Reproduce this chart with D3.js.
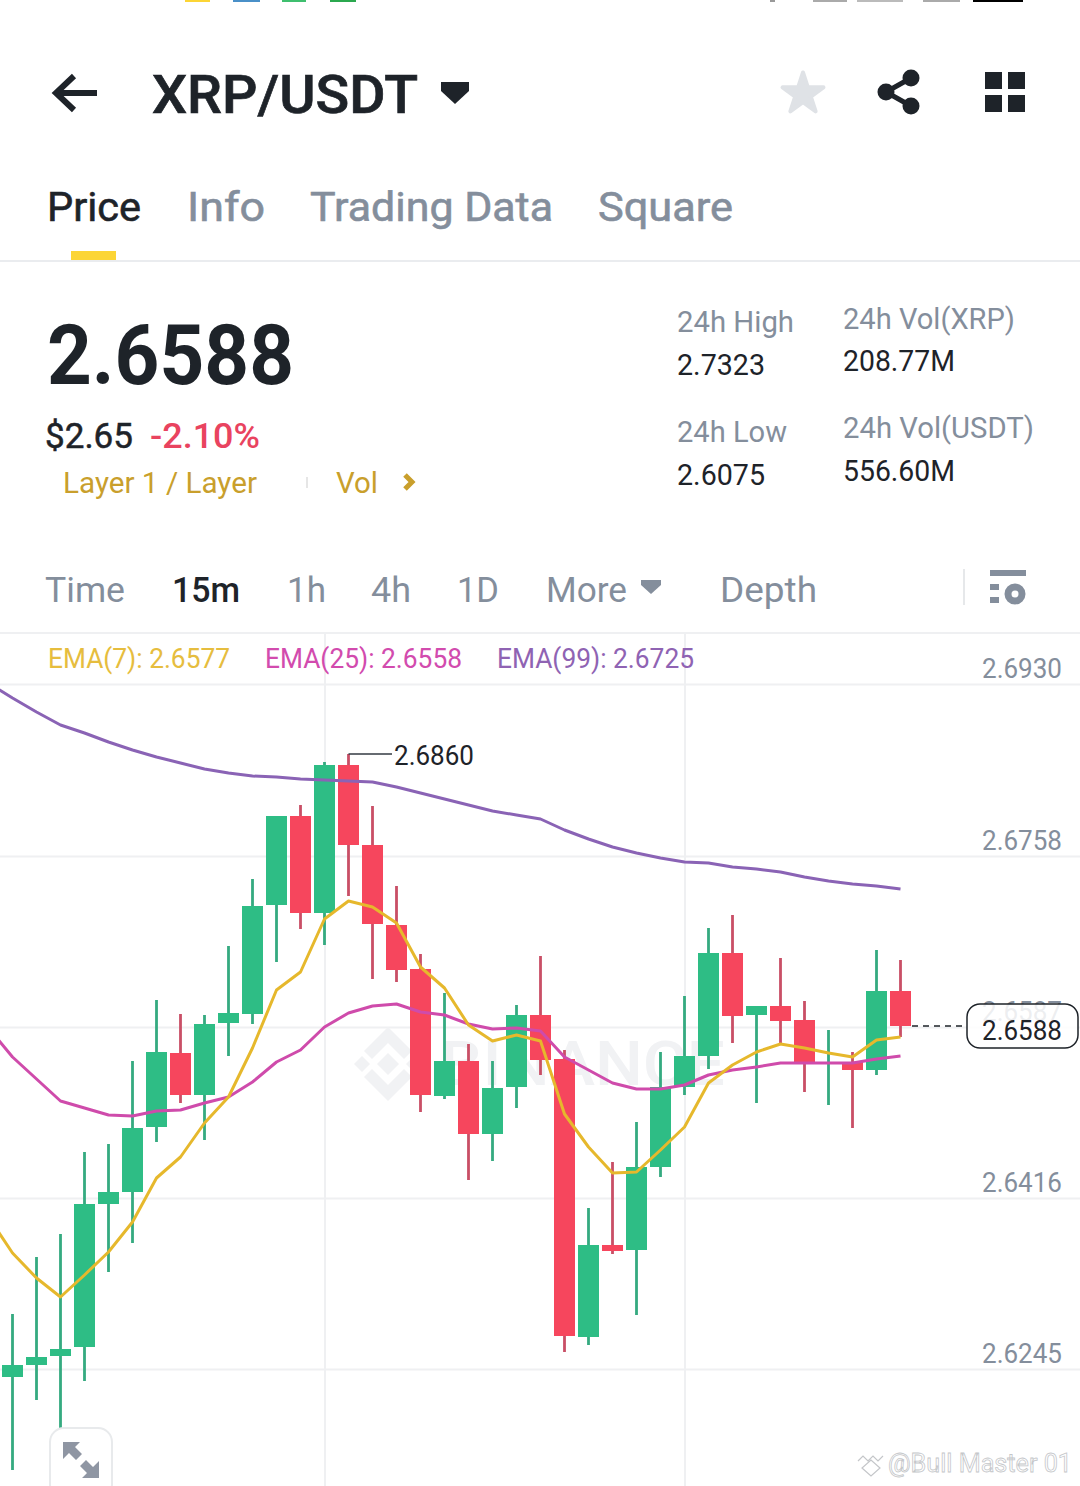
<!DOCTYPE html>
<html>
<head>
<meta charset="utf-8">
<script src="https://cdn.jsdelivr.net/npm/d3@7"></script>
<style>
html, body { margin: 0; padding: 0; background: #fff; }
svg { display: block; font-family: Roboto, sans-serif; }
</style>
</head>
<body>
<svg id="chart" width="1080" height="1486"></svg>
<script>
// candles, oldest first
var opens = [2.6237,2.6249,2.6258,2.6267,2.6410,2.6422,2.6487,2.6561,2.6519,2.6591,2.6600,2.6709,2.6798,2.6701,2.6849,2.6769,2.6689,2.6645,2.6518,2.6553,2.6480,2.6527,2.6599,2.6555,2.6277,2.6369,2.6364,2.6447,2.6527,2.6558,2.6661,2.6599,2.6608,2.6594,2.6550,2.6552,2.6544,2.6623];
var closes = [2.6249,2.6257,2.6265,2.6410,2.6422,2.6486,2.6562,2.6519,2.6590,2.6601,2.6708,2.6798,2.6701,2.6849,2.6769,2.6690,2.6644,2.6519,2.6553,2.6480,2.6526,2.6599,2.6554,2.6278,2.6369,2.6363,2.6447,2.6527,2.6558,2.6661,2.6598,2.6608,2.6593,2.6552,2.6552,2.6544,2.6623,2.6588];
var highs = [2.6300,2.6357,2.6380,2.6462,2.6470,2.6553,2.6614,2.6600,2.6599,2.6668,2.6735,2.6798,2.6809,2.6852,2.6860,2.6808,2.6728,2.6660,2.6621,2.6570,2.6553,2.6609,2.6658,2.6564,2.6406,2.6452,2.6492,2.6562,2.6618,2.6686,2.6699,2.6608,2.6656,2.6613,2.6584,2.6562,2.6664,2.6654];
var lows = [2.6144,2.6214,2.6186,2.6233,2.6342,2.6371,2.6472,2.6511,2.6474,2.6558,2.6590,2.6652,2.6685,2.6669,2.6718,2.6635,2.6632,2.6502,2.6515,2.6434,2.6453,2.6506,2.6539,2.6262,2.6269,2.6360,2.6299,2.6437,2.6519,2.6545,2.6571,2.6511,2.6571,2.6522,2.6509,2.6486,2.6539,2.6577];

// moving averages start one candle before the first one on screen
var ema7 = [2.6397,2.6361,2.6336,2.6317,2.6339,2.6362,2.6392,2.6436,2.6457,2.6491,2.6517,2.6566,2.6624,2.6642,2.6695,2.6713,2.6707,2.6691,2.6647,2.6626,2.6589,2.6573,2.6579,2.6573,2.6500,2.6467,2.6441,2.6442,2.6464,2.6487,2.6531,2.6549,2.6562,2.6570,2.6566,2.6561,2.6557,2.6574,2.6577];
var ema25 = [2.6586,2.6557,2.6535,2.6513,2.6506,2.6499,2.6498,2.6503,2.6504,2.6511,2.6517,2.6532,2.6552,2.6564,2.6587,2.6601,2.6608,2.6610,2.6602,2.6599,2.6590,2.6585,2.6586,2.6583,2.6557,2.6544,2.6531,2.6525,2.6525,2.6529,2.6539,2.6544,2.6547,2.6551,2.6551,2.6551,2.6551,2.6555,2.6558];
var ema99 = [2.6931,2.6916,2.6902,2.6889,2.6881,2.6872,2.6864,2.6857,2.6851,2.6845,2.6841,2.6838,2.6837,2.6835,2.6834,2.6833,2.6832,2.6827,2.6821,2.6815,2.6809,2.6803,2.6799,2.6795,2.6784,2.6775,2.6767,2.6761,2.6756,2.6752,2.6751,2.6747,2.6745,2.6742,2.6737,2.6733,2.6730,2.6728,2.6725];

var priceTicks = [2.6930,2.6758,2.6587,2.6416,2.6245];
var timeTicks = [13,28];
var lastPrice = 2.6588;
var peakIndex = 14;
var peakPrice = 2.6860;

var dark = "#1e2329", gray = "#848e9c", gridColor = "#eff0f2", gold = "#c99f2c";
var green = "#2ebd85", red = "#f6465d", greenWick = "#35aa80", redWick = "#c94f66";

var svg = d3.select("#chart");
var fmt = d3.format(".4f");

var x = d3.scaleLinear().domain([-1,37]).range([-11.5,900.5]);
var y = d3.scaleLinear().domain([2.6930,2.6245]).range([684,1369]);

function label(txt, px, py, size, fill, weight, w, thick) {
    var t = svg.append("text")
        .attr("x", px).attr("y", py)
        .attr("font-size", size)
        .attr("fill", fill)
        .attr("font-weight", weight || 400)
        .text(txt);
    if (w) t.attr("textLength", w).attr("lengthAdjust", "spacingAndGlyphs");
    if (thick) t.attr("stroke", fill).attr("stroke-width", thick);
    return t;
}

// status bar leftovers at the very top
[[185,25,"#fcd535"],[233,27,"#4a90c8"],[282,24,"#3fbf6f"],[330,26,"#2ba84f"],[770,5,"#999"],[813,34,"#aaa"],[857,46,"#bbb"],[923,37,"#aaa"],[973,50,"#000"]].forEach(function(d) {
    svg.append("rect").attr("x", d[0]).attr("y", 0).attr("width", d[1]).attr("height", 2).attr("fill", d[2]);
});

// header
svg.append("path").attr("d", "M97 93H57M74 76L56 93L74 110").attr("fill", "none").attr("stroke", dark).attr("stroke-width", 6);
label("XRP/USDT", 152, 113, 53, dark, 500, 266, 0.7);
svg.append("path").attr("d", "M441 82H469V91L455 104L441 91Z").attr("fill", dark);
svg.append("path").attr("d", d3.symbol(d3.symbolStar).size(520)()).attr("transform", "translate(803,94)")
    .attr("fill", "#dfe2e6").attr("stroke", "#dfe2e6").attr("stroke-width", 4).attr("stroke-linejoin", "round");
svg.append("path").attr("d", "M911 78L886 92L911 106").attr("fill", "none").attr("stroke", dark).attr("stroke-width", 5);
[[911,78],[886,92],[911,106]].forEach(function(d) {
    svg.append("circle").attr("cx", d[0]).attr("cy", d[1]).attr("r", 8.5).attr("fill", dark);
});
[[985,72],[1008,72],[985,95],[1008,95]].forEach(function(d) {
    svg.append("rect").attr("x", d[0]).attr("y", d[1]).attr("width", 17).attr("height", 17).attr("fill", dark);
});

// main tabs
label("Price", 47, 221, 40, dark, 400, 94, 0.6);
label("Info", 187, 221, 40, gray, 400, 78, 0.6);
label("Trading Data", 310, 221, 40, gray, 400, 243, 0.6);
label("Square", 598, 221, 40, gray, 400, 135, 0.6);
svg.append("rect").attr("x", 71).attr("y", 251).attr("width", 45).attr("height", 9).attr("fill", "#fcd535");
svg.append("rect").attr("x", 0).attr("y", 260).attr("width", 1080).attr("height", 2).attr("fill", "#eaecef");

// price block
label("2.6588", 47, 384, 84, dark, 700, 247);
label("$2.65", 45, 448, 35, dark, 400, 88, 0.5);
label("-2.10%", 150, 448, 35, "#e9435f", 500, 110);
label("Layer 1 / Layer", 63, 493, 29, gold, 400, 194);
svg.append("rect").attr("x", 306).attr("y", 477).attr("width", 2).attr("height", 11).attr("fill", "#e6e6e6");
label("Vol", 336, 493, 29, gold, 400, 42);
svg.append("path").attr("d", "M405 475L412 482L405 489").attr("fill", "none").attr("stroke", gold).attr("stroke-width", 5);

label("24h High", 677, 332, 30, gray, 400, 117);
label("2.7323", 677, 375, 30, dark, 400, 88);
label("24h Low", 677, 442, 30, gray, 400, 110);
label("2.6075", 677, 485, 30, dark, 400, 88);
label("24h Vol(XRP)", 843, 329, 30, gray, 400, 172);
label("208.77M", 843, 371, 30, dark, 400, 112);
label("24h Vol(USDT)", 843, 438, 30, gray, 400, 191);
label("556.60M", 843, 481, 30, dark, 400, 112);

// interval row
label("Time", 45, 602, 35, gray, 400, 80);
label("15m", 172, 602, 35, dark, 500, 68);
label("1h", 287, 602, 35, gray, 400, 39);
label("4h", 371, 602, 35, gray, 400, 40);
label("1D", 457, 602, 35, gray, 400, 42);
label("More", 546, 602, 35, gray, 400, 81);
svg.append("path").attr("d", "M641 580H661V585L651 594L641 585Z").attr("fill", gray);
label("Depth", 720, 602, 35, gray, 400, 97);
svg.append("rect").attr("x", 963).attr("y", 569).attr("width", 2).attr("height", 36).attr("fill", "#e6e8ea");
svg.append("rect").attr("x", 990).attr("y", 570).attr("width", 36).attr("height", 6).attr("fill", gray);
svg.append("rect").attr("x", 990).attr("y", 584).attr("width", 9).attr("height", 6).attr("fill", gray);
svg.append("rect").attr("x", 990).attr("y", 597).attr("width", 9).attr("height", 6).attr("fill", gray);
svg.append("circle").attr("cx", 1015).attr("cy", 594).attr("r", 7).attr("fill", "none").attr("stroke", gray).attr("stroke-width", 7);
svg.append("rect").attr("x", 0).attr("y", 632).attr("width", 1080).attr("height", 2).attr("fill", gridColor);

// grid lines
svg.append("g").attr("class", "ygrid").attr("transform", "translate(1080,0)")
    .call(d3.axisLeft(y).tickValues(priceTicks).tickSize(1080).tickFormat(""))
    .call(function(g) { g.select(".domain").remove(); g.selectAll("line").attr("stroke", gridColor).attr("stroke-width", 2); });
svg.append("g").attr("class", "xgrid").attr("transform", "translate(0,1486)")
    .call(d3.axisTop(x).tickValues(timeTicks).tickSize(853).tickFormat(""))
    .call(function(g) { g.select(".domain").remove(); g.selectAll("line").attr("stroke", gridColor).attr("stroke-width", 2); });

// exchange watermark behind the candles
var wm = svg.append("g").attr("fill", "#f1f2f4").attr("transform", "translate(388,1064)");
wm.append("path").attr("d", "M0 -11L11 0L0 11L-11 0Z");
wm.append("path").attr("d", "M-26 -8L-18 0L-26 8L-34 0Z");
wm.append("path").attr("d", "M26 -8L34 0L26 8L18 0Z");
wm.append("path").attr("d", "M0 -37L24 -13L16 -5L0 -21L-16 -5L-24 -13Z");
wm.append("path").attr("d", "M0 37L24 13L16 5L0 21L-16 5L-24 13Z");
label("BINANCE", 440, 1085, 62, "#f1f2f4", 500, 285);

// y axis labels
svg.append("g").attr("class", "yaxis").attr("transform", "translate(1062,-6.5)")
    .call(d3.axisLeft(y).tickValues(priceTicks).tickSize(0).tickPadding(0).tickFormat(fmt))
    .call(function(g) {
        g.select(".domain").remove();
        g.selectAll("text").attr("font-size", 27).attr("font-family", "Roboto").attr("fill", gray).attr("dy", 0).attr("textLength", 80).attr("lengthAdjust", "spacingAndGlyphs");
    });

// candles
var candles = d3.range(opens.length).map(function(i) {
    return {i: i, o: opens[i], c: closes[i], h: highs[i], l: lows[i], up: closes[i] >= opens[i]};
});

svg.append("g").selectAll("rect").data(candles).join("rect")
    .attr("x", function(d) { return x(d.i) - 1.4; })
    .attr("width", 2.8)
    .attr("y", function(d) { return y(d.h); })
    .attr("height", function(d) { return y(d.l) - y(d.h); })
    .attr("fill", function(d) { return d.up ? greenWick : redWick; });

svg.append("g").selectAll("rect").data(candles).join("rect")
    .attr("x", function(d) { return x(d.i) - 10.5; })
    .attr("width", 21)
    .attr("y", function(d) { return y(Math.max(d.o, d.c)); })
    .attr("height", function(d) { return Math.abs(y(d.o) - y(d.c)); })
    .attr("fill", function(d) { return d.up ? green : red; });

// moving averages
var line = d3.line()
    .x(function(d, i) { return x(i - 1); })
    .y(function(d) { return y(d); });

[[ema99,"#8a63b5"],[ema25,"#cf4bab"],[ema7,"#e6b82c"]].forEach(function(s) {
    svg.append("path").datum(s[0])
        .attr("fill", "none")
        .attr("stroke", s[1])
        .attr("stroke-width", 3)
        .attr("stroke-linejoin", "round")
        .attr("d", line);
});

// legend
label("EMA(7): " + fmt(ema7[ema7.length-1]), 48, 668, 27, "#e6bd3e", 400, 182);
label("EMA(25): " + fmt(ema25[ema25.length-1]), 265, 668, 27, "#d24bae", 400, 197);
label("EMA(99): " + fmt(ema99[ema99.length-1]), 497, 668, 27, "#8f63b3", 400, 197);

// peak marker
svg.append("path").attr("d", "M" + x(peakIndex) + " " + y(peakPrice) + "H392").attr("fill", "none").attr("stroke", "#333a42").attr("stroke-width", 1.5);
label(fmt(peakPrice), 394, 765, 27, dark, 400, 80);

// last price
svg.append("line").attr("x1", 912).attr("x2", 966).attr("y1", y(lastPrice)).attr("y2", y(lastPrice))
    .attr("stroke", dark).attr("stroke-width", 1.5).attr("stroke-dasharray", "6 5");
svg.append("rect").attr("x", 967).attr("y", 1004).attr("width", 111).attr("height", 44).attr("rx", 13)
    .attr("fill", "#fff").attr("fill-opacity", 0.85).attr("stroke", dark).attr("stroke-width", 1.5);
label(fmt(lastPrice), 982, 1040, 27, dark, 400, 80);

// expand button
svg.append("rect").attr("x", 50).attr("y", 1428).attr("width", 62).attr("height", 70).attr("rx", 14)
    .attr("fill", "#fff").attr("fill-opacity", 0.88).attr("stroke", "#e8eaec").attr("stroke-width", 2);
svg.append("path").attr("d", "M63 1442H80L75 1447L82 1454L76 1460L69 1453L63 1459Z").attr("fill", "#8f96a3");
svg.append("path").attr("d", "M99 1478H82L87 1473L80 1466L86 1460L93 1467L99 1461Z").attr("fill", "#8f96a3");

// corner credit
var credit = svg.append("g").attr("fill", "none").attr("stroke", "#c4c6c9").attr("stroke-width", 1.2);
credit.append("path").attr("d", "M858 1461L863 1456L868 1461L873 1456L878 1461L883 1456M862 1468L871 1476L880 1468L871 1460Z");
label("@Bull Master 01", 888, 1472, 26, "#fff", 400, 184).attr("stroke", "#c4c6c9").attr("stroke-width", 0.8);
</script>
</body>
</html>
